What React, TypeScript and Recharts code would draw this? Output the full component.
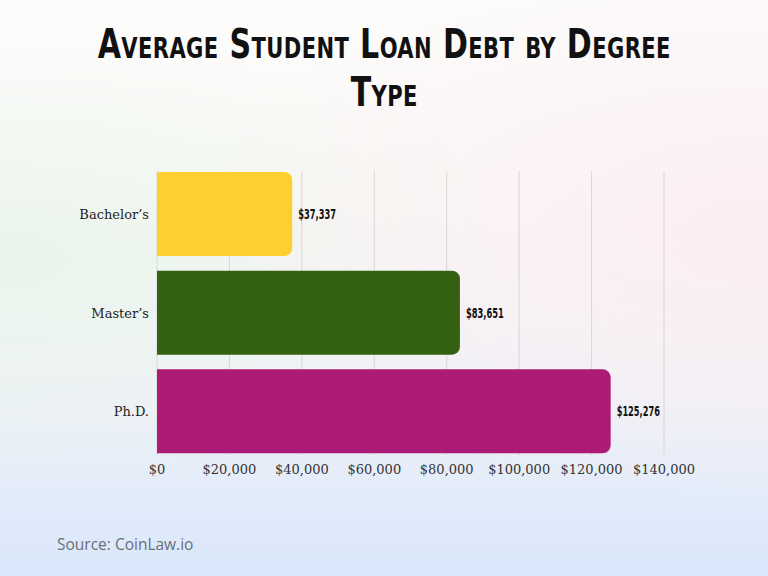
import React from 'react';
import { BarChart, Bar, XAxis, YAxis, CartesianGrid, LabelList, Cell } from 'recharts';

const degrees = ['Bachelor’s', 'Master’s', 'Ph.D.'];
const debts = [37337, 83651, 125276];
const barColors = ['#FDD02F', '#336111', '#AC1C77'];
const xTicks = [0, 20000, 40000, 60000, 80000, 100000, 120000, 140000];

const data = degrees.map((degree, i) => ({ degree, debt: debts[i] }));

const money = (v: number) => '$' + v.toLocaleString('en-US');

// narrow bold label drawn right of each bar
const ValueLabel = (props: any) => {
    const { x, y, width, height, value } = props;
    const txt = money(Number(value));
    return (
        <text
            x={x + width + 6}
            y={y + height / 2}
            dy="0.36em"
            fill="#111"
            fontSize={14}
            fontWeight="bold"
            fontFamily='"DejaVu Sans Condensed", sans-serif'
            textLength={txt.length * 5.4}
            lengthAdjust="spacingAndGlyphs"
        >
            {txt}
        </text>
    );
};

const App: React.FC = () => {
    return (
        <div
            style={{
                position: 'absolute',
                left: 0,
                top: 0,
                width: 768,
                height: 576,
                overflow: 'hidden',
                background:
                    'radial-gradient(ellipse at 100% 40%, rgba(252,236,240,0.9) 0%, rgba(252,236,240,0) 55%),' +
                    'radial-gradient(ellipse at 0% 45%, rgba(232,244,234,0.9) 0%, rgba(232,244,234,0) 50%),' +
                    'linear-gradient(180deg, #fcfcfb 0%, #fbfaf8 35%, #eef1f8 70%, #d9e7fb 100%)'
            }}
        >
            <div
                style={{
                    position: 'absolute',
                    top: 20,
                    left: 0,
                    width: 768,
                    textAlign: 'center'
                }}
            >
                <span
                    style={{
                        display: 'inline-block',
                        transform: 'scaleX(0.835)',
                        transformOrigin: 'center',
                        fontFamily: '"DejaVu Sans Condensed", sans-serif',
                        fontWeight: 'bold',
                        fontVariant: 'small-caps',
                        fontSize: 40,
                        lineHeight: '48px',
                        color: '#111',
                        letterSpacing: 0.5
                    }}
                >
                    Average Student Loan Debt by Degree
                    <br />
                    Type
                </span>
            </div>
            <div style={{ position: 'absolute', left: 0, top: 0 }}>
                <BarChart
                    width={768}
                    height={576}
                    data={data}
                    layout="vertical"
                    margin={{ top: 171, right: 104, bottom: 91, left: 7 }}
                    barSize={84}
                >
                    <CartesianGrid horizontal={false} stroke="#d9d6d6" strokeWidth={1} />
                    <XAxis
                        type="number"
                        domain={[0, 140000]}
                        ticks={xTicks}
                        tickFormatter={money}
                        axisLine={false}
                        tickLine={false}
                        height={30}
                        tick={{ fill: '#333', fontSize: 13, fontFamily: '"DejaVu Serif", "Liberation Serif", serif' }}
                        tickMargin={4}
                    />
                    <YAxis
                        type="category"
                        dataKey="degree"
                        width={150}
                        padding={{ top: -6, bottom: -6 }}
                        axisLine={false}
                        tickLine={false}
                        tick={{ fill: '#222', fontSize: 13, fontFamily: '"DejaVu Serif", "Liberation Serif", serif' }}
                        tickMargin={2}
                    />
                    <Bar dataKey="debt" radius={[0, 8, 8, 0]} isAnimationActive={false}>
                        {data.map((d, i) => (
                            <Cell key={`cell-${i}`} fill={barColors[i]} />
                        ))}
                        <LabelList dataKey="debt" content={ValueLabel} />
                    </Bar>
                </BarChart>
            </div>
            <div
                style={{
                    position: 'absolute',
                    left: 57,
                    top: 533,
                    fontFamily: '"Open Sans", sans-serif',
                    fontSize: 15.5,
                    color: '#6a6f78'
                }}
            >
                Source: CoinLaw.io
            </div>
        </div>
    );
};

export default App;
